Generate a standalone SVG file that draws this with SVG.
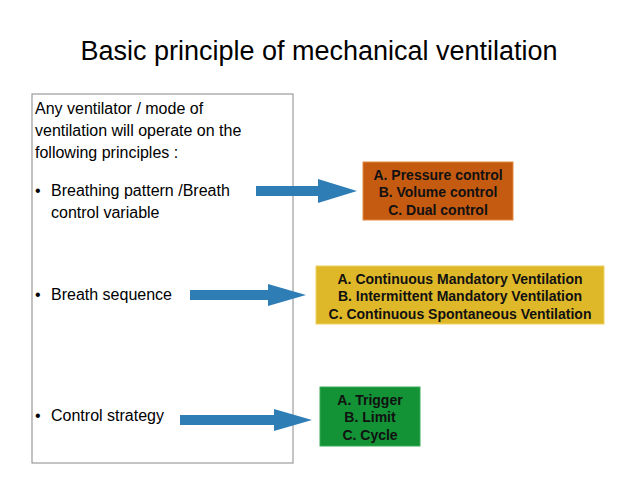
<svg xmlns="http://www.w3.org/2000/svg" width="638" height="479" viewBox="0 0 638 479">
<style>
text{font-family:"Liberation Sans",Arial,sans-serif}
.t{font-size:16px;fill:#000}
.b{font-size:14px;font-weight:bold;fill:#111;text-anchor:middle}
.a{fill:#2f7db5}
</style>
<rect width="638" height="479" fill="#fff"/>
<text x="319" y="60" font-size="27" text-anchor="middle" style="font-family:'Liberation Sans',Arial,sans-serif">Basic principle of mechanical ventilation</text>
<g id="main">
<rect x="32" y="94" width="261" height="369" fill="#fff" stroke="#888" stroke-width="1"/>
<text class="t" x="35" y="114">Any ventilator / mode of</text>
<text class="t" x="35" y="136">ventilation will operate on the</text>
<text class="t" x="35" y="158">following principles :</text>
<text class="t" x="35" y="196">•</text><text class="t" x="51" y="196">Breathing pattern /Breath</text>
<text class="t" x="51" y="218">control variable</text>
<text class="t" x="35" y="300">•</text><text class="t" x="51" y="300">Breath sequence</text>
<text class="t" x="35" y="421">•</text><text class="t" x="51" y="421">Control strategy</text>
</g>
<g id="connectors">
<polygon class="a" points="256,186 318,186 318,179 357,191 318,203 318,196 256,196"/>
<polygon class="a" points="190,290 268,290 268,284 306,295 268,306 268,300 190,300"/>
<polygon class="a" points="180,415 274,415 274,409 312,420 274,431 274,425 180,425"/>
</g>
<g id="pattern">
<rect x="363" y="162" width="150" height="58" fill="#c55a11" stroke="#e08a40"/>
<text class="b" x="438" y="180">A. Pressure control</text>
<text class="b" x="438" y="197">B. Volume control</text>
<text class="b" x="438" y="215">C. Dual control</text>
</g>
<g id="sequence">
<rect x="316" y="266" width="288" height="58" fill="#dfb82a" stroke="#eed060"/>
<text class="b" x="460" y="284">A. Continuous Mandatory Ventilation</text>
<text class="b" x="460" y="301">B. Intermittent Mandatory Ventilation</text>
<text class="b" x="460" y="319">C. Continuous Spontaneous Ventilation</text>
</g>
<g id="strategy">
<rect x="320" y="387" width="100" height="59" fill="#139236" stroke="#3aaa55"/>
<text class="b" x="370" y="405">A. Trigger</text>
<text class="b" x="370" y="422">B. Limit</text>
<text class="b" x="370" y="440">C. Cycle</text>
</g>
</svg>
